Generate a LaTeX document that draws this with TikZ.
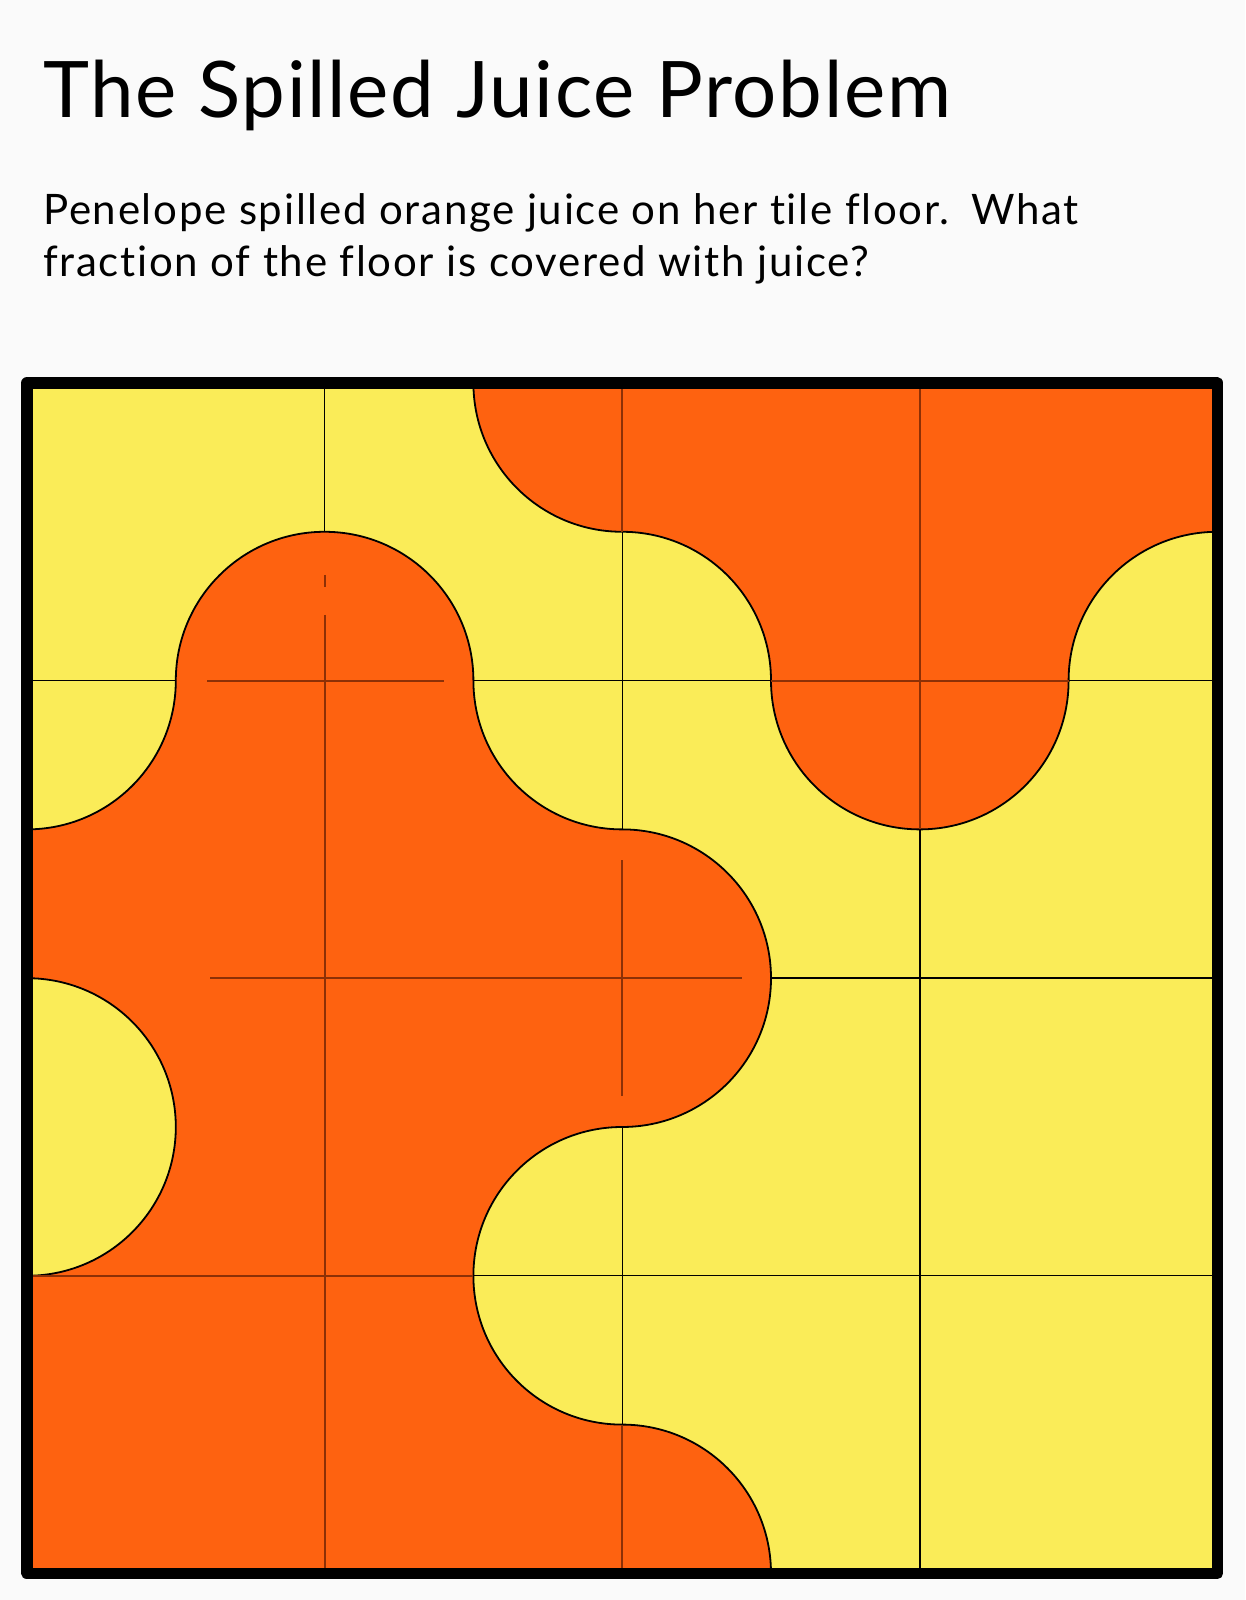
\documentclass[tikz,border=0pt]{standalone}
\usepackage{fontspec}
\setmainfont[Ligatures=NoCommon]{Lato}
\newfontfamily\headfont[Ligatures=NoCommon,LetterSpace=2.2]{Lato}
\newfontfamily\askfont[Ligatures=NoCommon,LetterSpace=4.1]{Lato}
\usepackage{tikz}
\usetikzlibrary{positioning}
\definecolor{juice}{RGB}{254,98,16}
\definecolor{tilecolor}{RGB}{250,236,88}
\definecolor{paper}{RGB}{250,250,250}
\definecolor{stain}{RGB}{140,48,6}
\tikzset{
    floor plan/.style={
            x=1pt,y=1pt,
            heading/.style={anchor=base west,inner sep=0,font=\headfont\fontsize{78}{94}\selectfont},
            question/.style={anchor=base west,inner sep=0,font=\askfont\fontsize{42}{52}\selectfont},
            seam/.style={line width=1.4pt,black},
            wetseam/.style={line width=2pt,stain},
            spill/.style={fill=juice,draw=black,line width=1.8pt},
            tileborder/.style={line width=11.5pt,line join=round}
        }
    }
\newcommand{\hc}{148.8pt}

\begin{document}
\begin{tikzpicture}[floor plan]
    \useasboundingbox[fill=paper] (0,0) rectangle (1245,1600);
    \node (title) [heading] at (43,1482) {The Spilled Juice Problem};
    \node (line1) [question] at (43,1375) {Penelope spilled orange juice on her tile floor.\hspace{0.12em} What};
    \node (line2) [question,below=52pt of line1.base west,anchor=base west] {fraction of the floor is covered with juice?};
    \begin{scope}[shift={(27,26.6)},x=297.6pt,y=297.6pt]
        \fill[tilecolor] (0,0) rectangle (4,4);
        \foreach \k in {1,2,3} {
            \draw[seam] (\k,0) -- (\k,4);
            \draw[seam] (0,\k) -- (4,\k);
        }
        \draw[spill] (1.5,4) -- (4,4) -- (4,3.5)
            arc[start angle=90,end angle=180,radius=\hc]
            arc[start angle=0,end angle=-180,radius=\hc]
            arc[start angle=0,end angle=90,radius=\hc]
            arc[start angle=-90,end angle=-180,radius=\hc] -- cycle;
        \draw[spill] (0,2.5) -- (0,2)
            arc[start angle=90,end angle=-90,radius=\hc] -- (0,0) -- (2.5,0)
            arc[start angle=0,end angle=90,radius=\hc]
            arc[start angle=-90,end angle=-270,radius=\hc]
            arc[start angle=-90,end angle=90,radius=\hc]
            arc[start angle=-90,end angle=-180,radius=\hc]
            arc[start angle=0,end angle=180,radius=\hc]
            arc[start angle=0,end angle=-90,radius=\hc] -- cycle;
        \draw[wetseam] (2,3.5) -- (2,4) (3,2.5) -- (3,4) (2.5,3) -- (3.5,3);
        \draw[wetseam] (0.605,3) -- (1.4,3) (1,3.355) -- (1,3.315) (1,3.221) -- (1,0);
        \draw[wetseam] (0.615,2) -- (2.403,2) (2,2.397) -- (2,1.604);
        \draw[wetseam] (0,1) -- (1.5,1) (2,0.5) -- (2,0);
        \draw[tileborder] (0,0) rectangle (4,4);
    \end{scope}
\end{tikzpicture}
\end{document}
